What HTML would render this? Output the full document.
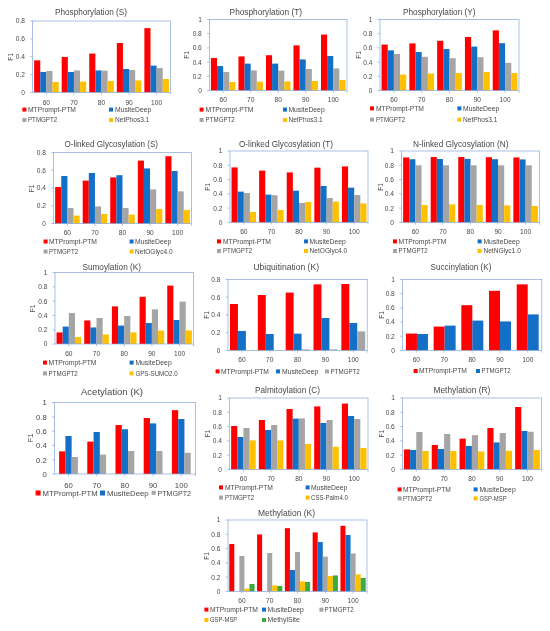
<!DOCTYPE html>
<html><head><meta charset="utf-8"><title>F1 comparison</title>
<style>
html,body{margin:0;padding:0;background:#fff}
svg{display:block}
svg text{font-family:"Liberation Sans",sans-serif;fill:#484848}
</style></head><body>
<svg width="550" height="631" viewBox="0 0 550 631">
<rect width="550" height="631" fill="#fff"/>
<g>
<text x="91" y="15.35" font-size="8.2" text-anchor="middle" textLength="72" lengthAdjust="spacingAndGlyphs">Phosphorylation (S)</text>
<rect x="34.13" y="60.36" width="6.13" height="32.04" fill="#FE0000"/>
<rect x="40.25" y="71.96" width="6.13" height="20.44" fill="#1470C6"/>
<rect x="46.38" y="70.98" width="6.13" height="21.42" fill="#A5A5A5"/>
<rect x="52.51" y="81.96" width="6.13" height="10.44" fill="#FFC000"/>
<rect x="61.69" y="56.97" width="6.13" height="35.43" fill="#FE0000"/>
<rect x="67.81" y="71.96" width="6.13" height="20.44" fill="#1470C6"/>
<rect x="73.94" y="70.44" width="6.13" height="21.96" fill="#A5A5A5"/>
<rect x="80.07" y="81.6" width="6.13" height="10.8" fill="#FFC000"/>
<rect x="89.25" y="53.58" width="6.13" height="38.82" fill="#FE0000"/>
<rect x="95.37" y="70.44" width="6.13" height="21.96" fill="#1470C6"/>
<rect x="101.5" y="70.62" width="6.13" height="21.78" fill="#A5A5A5"/>
<rect x="107.63" y="80.98" width="6.13" height="11.42" fill="#FFC000"/>
<rect x="116.81" y="43.04" width="6.13" height="49.36" fill="#FE0000"/>
<rect x="122.93" y="69.02" width="6.13" height="23.38" fill="#1470C6"/>
<rect x="129.06" y="70" width="6.13" height="22.4" fill="#A5A5A5"/>
<rect x="135.19" y="80.44" width="6.13" height="11.96" fill="#FFC000"/>
<rect x="144.37" y="28.14" width="6.13" height="64.26" fill="#FE0000"/>
<rect x="150.49" y="65.62" width="6.13" height="26.78" fill="#1470C6"/>
<rect x="156.62" y="68.03" width="6.13" height="24.37" fill="#A5A5A5"/>
<rect x="162.75" y="79.01" width="6.13" height="13.39" fill="#FFC000"/>
<rect x="32.6" y="21" width="137.8" height="71.4" fill="none" stroke="#86A6DA" stroke-width="0.7"/>
<line x1="30.2" y1="92.4" x2="32.6" y2="92.4" stroke="#86A6DA" stroke-width="0.7"/>
<text x="25" y="94.78" font-size="6.6" text-anchor="end">0</text>
<line x1="30.2" y1="74.55" x2="32.6" y2="74.55" stroke="#86A6DA" stroke-width="0.7"/>
<text x="25" y="76.93" font-size="6.6" text-anchor="end">0.2</text>
<line x1="30.2" y1="56.7" x2="32.6" y2="56.7" stroke="#86A6DA" stroke-width="0.7"/>
<text x="25" y="59.08" font-size="6.6" text-anchor="end">0.4</text>
<line x1="30.2" y1="38.85" x2="32.6" y2="38.85" stroke="#86A6DA" stroke-width="0.7"/>
<text x="25" y="41.23" font-size="6.6" text-anchor="end">0.6</text>
<line x1="30.2" y1="21" x2="32.6" y2="21" stroke="#86A6DA" stroke-width="0.7"/>
<text x="25" y="23.38" font-size="6.6" text-anchor="end">0.8</text>
<line x1="46.38" y1="92.4" x2="46.38" y2="94.6" stroke="#86A6DA" stroke-width="0.7"/>
<text x="46.38" y="104.78" font-size="6.6" text-anchor="middle">60</text>
<line x1="73.94" y1="92.4" x2="73.94" y2="94.6" stroke="#86A6DA" stroke-width="0.7"/>
<text x="73.94" y="104.78" font-size="6.6" text-anchor="middle">70</text>
<line x1="101.5" y1="92.4" x2="101.5" y2="94.6" stroke="#86A6DA" stroke-width="0.7"/>
<text x="101.5" y="104.78" font-size="6.6" text-anchor="middle">80</text>
<line x1="129.06" y1="92.4" x2="129.06" y2="94.6" stroke="#86A6DA" stroke-width="0.7"/>
<text x="129.06" y="104.78" font-size="6.6" text-anchor="middle">90</text>
<line x1="156.62" y1="92.4" x2="156.62" y2="94.6" stroke="#86A6DA" stroke-width="0.7"/>
<text x="156.62" y="104.78" font-size="6.6" text-anchor="middle">100</text>
<line x1="170.4" y1="92.4" x2="170.4" y2="94.6" stroke="#86A6DA" stroke-width="0.7"/>
<text transform="translate(13.38,57) rotate(-90)" font-size="6.6" text-anchor="middle">F1</text>
<rect x="22.4" y="107.6" width="4" height="4" fill="#FE0000"/>
<text x="28" y="111.98" font-size="6.6" textLength="47.88" lengthAdjust="spacingAndGlyphs">MTPrompt-PTM</text>
<rect x="109" y="107.6" width="4" height="4" fill="#1470C6"/>
<text x="115" y="111.98" font-size="6.6" textLength="36.28" lengthAdjust="spacingAndGlyphs">MusiteDeep</text>
<rect x="22.4" y="118" width="4" height="4" fill="#A5A5A5"/>
<text x="28" y="122.38" font-size="6.6" textLength="29.2" lengthAdjust="spacingAndGlyphs">PTMGPT2</text>
<rect x="109" y="118" width="4" height="4" fill="#FFC000"/>
<text x="115" y="122.38" font-size="6.6" textLength="34.34" lengthAdjust="spacingAndGlyphs">NetPhos3.1</text>
</g>
<g>
<text x="265.8" y="15.35" font-size="8.2" text-anchor="middle" textLength="72.4" lengthAdjust="spacingAndGlyphs">Phosphorylation (T)</text>
<rect x="210.93" y="57.99" width="6.12" height="32.61" fill="#FE0000"/>
<rect x="217.04" y="66.04" width="6.12" height="24.56" fill="#1470C6"/>
<rect x="223.16" y="72.02" width="6.12" height="18.58" fill="#A5A5A5"/>
<rect x="229.28" y="82.06" width="6.12" height="8.54" fill="#FFC000"/>
<rect x="238.45" y="56.42" width="6.12" height="34.18" fill="#FE0000"/>
<rect x="244.56" y="63.62" width="6.12" height="26.98" fill="#1470C6"/>
<rect x="250.68" y="70.38" width="6.12" height="20.22" fill="#A5A5A5"/>
<rect x="256.8" y="81.63" width="6.12" height="8.97" fill="#FFC000"/>
<rect x="265.97" y="55.21" width="6.12" height="35.39" fill="#FE0000"/>
<rect x="272.08" y="63.62" width="6.12" height="26.98" fill="#1470C6"/>
<rect x="278.2" y="70.59" width="6.12" height="20.01" fill="#A5A5A5"/>
<rect x="284.32" y="81.42" width="6.12" height="9.18" fill="#FFC000"/>
<rect x="293.49" y="45.39" width="6.12" height="45.21" fill="#FE0000"/>
<rect x="299.6" y="59.41" width="6.12" height="31.19" fill="#1470C6"/>
<rect x="305.72" y="69.03" width="6.12" height="21.57" fill="#A5A5A5"/>
<rect x="311.84" y="80.99" width="6.12" height="9.61" fill="#FFC000"/>
<rect x="321.01" y="34.57" width="6.12" height="56.03" fill="#FE0000"/>
<rect x="327.12" y="56" width="6.12" height="34.6" fill="#1470C6"/>
<rect x="333.24" y="68.39" width="6.12" height="22.21" fill="#A5A5A5"/>
<rect x="339.36" y="79.99" width="6.12" height="10.61" fill="#FFC000"/>
<rect x="209.4" y="19.4" width="137.6" height="71.2" fill="none" stroke="#86A6DA" stroke-width="0.7"/>
<line x1="207" y1="90.6" x2="209.4" y2="90.6" stroke="#86A6DA" stroke-width="0.7"/>
<text x="201.8" y="92.98" font-size="6.6" text-anchor="end">0</text>
<line x1="207" y1="76.36" x2="209.4" y2="76.36" stroke="#86A6DA" stroke-width="0.7"/>
<text x="201.8" y="78.74" font-size="6.6" text-anchor="end">0.2</text>
<line x1="207" y1="62.12" x2="209.4" y2="62.12" stroke="#86A6DA" stroke-width="0.7"/>
<text x="201.8" y="64.5" font-size="6.6" text-anchor="end">0.4</text>
<line x1="207" y1="47.88" x2="209.4" y2="47.88" stroke="#86A6DA" stroke-width="0.7"/>
<text x="201.8" y="50.26" font-size="6.6" text-anchor="end">0.6</text>
<line x1="207" y1="33.64" x2="209.4" y2="33.64" stroke="#86A6DA" stroke-width="0.7"/>
<text x="201.8" y="36.02" font-size="6.6" text-anchor="end">0.8</text>
<line x1="207" y1="19.4" x2="209.4" y2="19.4" stroke="#86A6DA" stroke-width="0.7"/>
<text x="201.8" y="21.78" font-size="6.6" text-anchor="end">1</text>
<line x1="223.16" y1="90.6" x2="223.16" y2="92.8" stroke="#86A6DA" stroke-width="0.7"/>
<text x="223.16" y="102.38" font-size="6.6" text-anchor="middle">60</text>
<line x1="250.68" y1="90.6" x2="250.68" y2="92.8" stroke="#86A6DA" stroke-width="0.7"/>
<text x="250.68" y="102.38" font-size="6.6" text-anchor="middle">70</text>
<line x1="278.2" y1="90.6" x2="278.2" y2="92.8" stroke="#86A6DA" stroke-width="0.7"/>
<text x="278.2" y="102.38" font-size="6.6" text-anchor="middle">80</text>
<line x1="305.72" y1="90.6" x2="305.72" y2="92.8" stroke="#86A6DA" stroke-width="0.7"/>
<text x="305.72" y="102.38" font-size="6.6" text-anchor="middle">90</text>
<line x1="333.24" y1="90.6" x2="333.24" y2="92.8" stroke="#86A6DA" stroke-width="0.7"/>
<text x="333.24" y="102.38" font-size="6.6" text-anchor="middle">100</text>
<line x1="347" y1="90.6" x2="347" y2="92.8" stroke="#86A6DA" stroke-width="0.7"/>
<text transform="translate(189.38,55) rotate(-90)" font-size="6.6" text-anchor="middle">F1</text>
<rect x="199.6" y="107.6" width="4" height="4" fill="#FE0000"/>
<text x="205.6" y="111.98" font-size="6.6" textLength="47.88" lengthAdjust="spacingAndGlyphs">MTPrompt-PTM</text>
<rect x="283" y="107.6" width="4" height="4" fill="#1470C6"/>
<text x="288.4" y="111.98" font-size="6.6" textLength="36.28" lengthAdjust="spacingAndGlyphs">MusiteDeep</text>
<rect x="199.6" y="118" width="4" height="4" fill="#A5A5A5"/>
<text x="205.6" y="122.38" font-size="6.6" textLength="29.2" lengthAdjust="spacingAndGlyphs">PTMGPT2</text>
<rect x="283" y="118" width="4" height="4" fill="#FFC000"/>
<text x="288.4" y="122.38" font-size="6.6" textLength="34.34" lengthAdjust="spacingAndGlyphs">NetPhos3.1</text>
</g>
<g>
<text x="439.3" y="15.35" font-size="8.2" text-anchor="middle" textLength="72.6" lengthAdjust="spacingAndGlyphs">Phosphorylation (Y)</text>
<rect x="381.54" y="44.6" width="6.18" height="46" fill="#FE0000"/>
<rect x="387.72" y="50.37" width="6.18" height="40.23" fill="#1470C6"/>
<rect x="393.9" y="54" width="6.18" height="36.6" fill="#A5A5A5"/>
<rect x="400.08" y="74.58" width="6.18" height="16.02" fill="#FFC000"/>
<rect x="409.34" y="43.39" width="6.18" height="47.21" fill="#FE0000"/>
<rect x="415.52" y="52.01" width="6.18" height="38.59" fill="#1470C6"/>
<rect x="421.7" y="56.78" width="6.18" height="33.82" fill="#A5A5A5"/>
<rect x="427.88" y="73.58" width="6.18" height="17.02" fill="#FFC000"/>
<rect x="437.14" y="40.76" width="6.18" height="49.84" fill="#FE0000"/>
<rect x="443.32" y="49.02" width="6.18" height="41.58" fill="#1470C6"/>
<rect x="449.5" y="58.2" width="6.18" height="32.4" fill="#A5A5A5"/>
<rect x="455.68" y="73.01" width="6.18" height="17.59" fill="#FFC000"/>
<rect x="464.94" y="36.99" width="6.18" height="53.61" fill="#FE0000"/>
<rect x="471.12" y="46.6" width="6.18" height="44" fill="#1470C6"/>
<rect x="477.3" y="57.21" width="6.18" height="33.39" fill="#A5A5A5"/>
<rect x="483.48" y="72.02" width="6.18" height="18.58" fill="#FFC000"/>
<rect x="492.74" y="30.36" width="6.18" height="60.24" fill="#FE0000"/>
<rect x="498.92" y="43.18" width="6.18" height="47.42" fill="#1470C6"/>
<rect x="505.1" y="62.83" width="6.18" height="27.77" fill="#A5A5A5"/>
<rect x="511.28" y="73.01" width="6.18" height="17.59" fill="#FFC000"/>
<rect x="380" y="19.4" width="139" height="71.2" fill="none" stroke="#86A6DA" stroke-width="0.7"/>
<line x1="377.6" y1="90.6" x2="380" y2="90.6" stroke="#86A6DA" stroke-width="0.7"/>
<text x="372.4" y="92.98" font-size="6.6" text-anchor="end">0</text>
<line x1="377.6" y1="76.36" x2="380" y2="76.36" stroke="#86A6DA" stroke-width="0.7"/>
<text x="372.4" y="78.74" font-size="6.6" text-anchor="end">0.2</text>
<line x1="377.6" y1="62.12" x2="380" y2="62.12" stroke="#86A6DA" stroke-width="0.7"/>
<text x="372.4" y="64.5" font-size="6.6" text-anchor="end">0.4</text>
<line x1="377.6" y1="47.88" x2="380" y2="47.88" stroke="#86A6DA" stroke-width="0.7"/>
<text x="372.4" y="50.26" font-size="6.6" text-anchor="end">0.6</text>
<line x1="377.6" y1="33.64" x2="380" y2="33.64" stroke="#86A6DA" stroke-width="0.7"/>
<text x="372.4" y="36.02" font-size="6.6" text-anchor="end">0.8</text>
<line x1="377.6" y1="19.4" x2="380" y2="19.4" stroke="#86A6DA" stroke-width="0.7"/>
<text x="372.4" y="21.78" font-size="6.6" text-anchor="end">1</text>
<line x1="393.9" y1="90.6" x2="393.9" y2="92.8" stroke="#86A6DA" stroke-width="0.7"/>
<text x="393.9" y="102.38" font-size="6.6" text-anchor="middle">60</text>
<line x1="421.7" y1="90.6" x2="421.7" y2="92.8" stroke="#86A6DA" stroke-width="0.7"/>
<text x="421.7" y="102.38" font-size="6.6" text-anchor="middle">70</text>
<line x1="449.5" y1="90.6" x2="449.5" y2="92.8" stroke="#86A6DA" stroke-width="0.7"/>
<text x="449.5" y="102.38" font-size="6.6" text-anchor="middle">80</text>
<line x1="477.3" y1="90.6" x2="477.3" y2="92.8" stroke="#86A6DA" stroke-width="0.7"/>
<text x="477.3" y="102.38" font-size="6.6" text-anchor="middle">90</text>
<line x1="505.1" y1="90.6" x2="505.1" y2="92.8" stroke="#86A6DA" stroke-width="0.7"/>
<text x="505.1" y="102.38" font-size="6.6" text-anchor="middle">100</text>
<line x1="519" y1="90.6" x2="519" y2="92.8" stroke="#86A6DA" stroke-width="0.7"/>
<text transform="translate(361.38,55) rotate(-90)" font-size="6.6" text-anchor="middle">F1</text>
<rect x="370" y="106.4" width="4" height="4" fill="#FE0000"/>
<text x="376" y="110.78" font-size="6.6" textLength="47.88" lengthAdjust="spacingAndGlyphs">MTPrompt-PTM</text>
<rect x="457.4" y="106.4" width="4" height="4" fill="#1470C6"/>
<text x="463" y="110.78" font-size="6.6" textLength="36.28" lengthAdjust="spacingAndGlyphs">MusiteDeep</text>
<rect x="370" y="117.6" width="4" height="4" fill="#A5A5A5"/>
<text x="376" y="121.98" font-size="6.6" textLength="29.2" lengthAdjust="spacingAndGlyphs">PTMGPT2</text>
<rect x="457.4" y="117.6" width="4" height="4" fill="#FFC000"/>
<text x="463" y="121.98" font-size="6.6" textLength="34.34" lengthAdjust="spacingAndGlyphs">NetPhos3.1</text>
</g>
<g>
<text x="111.2" y="146.95" font-size="8.2" text-anchor="middle" textLength="93.6" lengthAdjust="spacingAndGlyphs">O-linked Glycosylation (S)</text>
<rect x="55.13" y="187.02" width="6.13" height="36.58" fill="#FE0000"/>
<rect x="61.25" y="175.99" width="6.13" height="47.61" fill="#1470C6"/>
<rect x="67.38" y="208.03" width="6.13" height="15.57" fill="#A5A5A5"/>
<rect x="73.51" y="215.59" width="6.13" height="8.01" fill="#FFC000"/>
<rect x="82.69" y="180.61" width="6.13" height="42.99" fill="#FE0000"/>
<rect x="88.81" y="172.96" width="6.13" height="50.64" fill="#1470C6"/>
<rect x="94.94" y="206.42" width="6.13" height="17.18" fill="#A5A5A5"/>
<rect x="101.07" y="213.99" width="6.13" height="9.61" fill="#FFC000"/>
<rect x="110.25" y="177.41" width="6.13" height="46.19" fill="#FE0000"/>
<rect x="116.37" y="175.18" width="6.13" height="48.42" fill="#1470C6"/>
<rect x="122.5" y="208.03" width="6.13" height="15.57" fill="#A5A5A5"/>
<rect x="128.63" y="214.61" width="6.13" height="8.99" fill="#FFC000"/>
<rect x="137.81" y="160.59" width="6.13" height="63.01" fill="#FE0000"/>
<rect x="143.93" y="168.42" width="6.13" height="55.18" fill="#1470C6"/>
<rect x="150.06" y="189.42" width="6.13" height="34.18" fill="#A5A5A5"/>
<rect x="156.19" y="209" width="6.13" height="14.6" fill="#FFC000"/>
<rect x="165.37" y="156.23" width="6.13" height="67.37" fill="#FE0000"/>
<rect x="171.49" y="171" width="6.13" height="52.6" fill="#1470C6"/>
<rect x="177.62" y="191.38" width="6.13" height="32.22" fill="#A5A5A5"/>
<rect x="183.75" y="209.98" width="6.13" height="13.62" fill="#FFC000"/>
<rect x="53.6" y="152.4" width="137.8" height="71.2" fill="none" stroke="#86A6DA" stroke-width="0.7"/>
<line x1="51.2" y1="223.6" x2="53.6" y2="223.6" stroke="#86A6DA" stroke-width="0.7"/>
<text x="46" y="225.98" font-size="6.6" text-anchor="end">0</text>
<line x1="51.2" y1="205.8" x2="53.6" y2="205.8" stroke="#86A6DA" stroke-width="0.7"/>
<text x="46" y="208.18" font-size="6.6" text-anchor="end">0.2</text>
<line x1="51.2" y1="188" x2="53.6" y2="188" stroke="#86A6DA" stroke-width="0.7"/>
<text x="46" y="190.38" font-size="6.6" text-anchor="end">0.4</text>
<line x1="51.2" y1="170.2" x2="53.6" y2="170.2" stroke="#86A6DA" stroke-width="0.7"/>
<text x="46" y="172.58" font-size="6.6" text-anchor="end">0.6</text>
<line x1="51.2" y1="152.4" x2="53.6" y2="152.4" stroke="#86A6DA" stroke-width="0.7"/>
<text x="46" y="154.78" font-size="6.6" text-anchor="end">0.8</text>
<line x1="67.38" y1="223.6" x2="67.38" y2="225.8" stroke="#86A6DA" stroke-width="0.7"/>
<text x="67.38" y="235.38" font-size="6.6" text-anchor="middle">60</text>
<line x1="94.94" y1="223.6" x2="94.94" y2="225.8" stroke="#86A6DA" stroke-width="0.7"/>
<text x="94.94" y="235.38" font-size="6.6" text-anchor="middle">70</text>
<line x1="122.5" y1="223.6" x2="122.5" y2="225.8" stroke="#86A6DA" stroke-width="0.7"/>
<text x="122.5" y="235.38" font-size="6.6" text-anchor="middle">80</text>
<line x1="150.06" y1="223.6" x2="150.06" y2="225.8" stroke="#86A6DA" stroke-width="0.7"/>
<text x="150.06" y="235.38" font-size="6.6" text-anchor="middle">90</text>
<line x1="177.62" y1="223.6" x2="177.62" y2="225.8" stroke="#86A6DA" stroke-width="0.7"/>
<text x="177.62" y="235.38" font-size="6.6" text-anchor="middle">100</text>
<line x1="191.4" y1="223.6" x2="191.4" y2="225.8" stroke="#86A6DA" stroke-width="0.7"/>
<text transform="translate(34.38,188.4) rotate(-90)" font-size="6.6" text-anchor="middle">F1</text>
<rect x="43.6" y="239.5" width="4" height="4" fill="#FE0000"/>
<text x="49" y="243.88" font-size="6.6" textLength="47.88" lengthAdjust="spacingAndGlyphs">MTPrompt-PTM</text>
<rect x="129.6" y="239.5" width="4" height="4" fill="#1470C6"/>
<text x="135" y="243.88" font-size="6.6" textLength="36.28" lengthAdjust="spacingAndGlyphs">MusiteDeep</text>
<rect x="43.6" y="249.5" width="4" height="4" fill="#A5A5A5"/>
<text x="49" y="253.88" font-size="6.6" textLength="29.2" lengthAdjust="spacingAndGlyphs">PTMGPT2</text>
<rect x="129.6" y="249.5" width="4" height="4" fill="#FFC000"/>
<text x="135" y="253.88" font-size="6.6" textLength="37.54" lengthAdjust="spacingAndGlyphs">NetOGlyc4.0</text>
</g>
<g>
<text x="286" y="146.95" font-size="8.2" text-anchor="middle" textLength="94" lengthAdjust="spacingAndGlyphs">O-linked Glycosylation (T)</text>
<rect x="231.53" y="167.42" width="6.13" height="54.98" fill="#FE0000"/>
<rect x="237.67" y="191.63" width="6.13" height="30.77" fill="#1470C6"/>
<rect x="243.8" y="192.98" width="6.13" height="29.42" fill="#A5A5A5"/>
<rect x="249.93" y="211.98" width="6.13" height="10.42" fill="#FFC000"/>
<rect x="259.13" y="170.63" width="6.13" height="51.77" fill="#FE0000"/>
<rect x="265.27" y="194.63" width="6.13" height="27.77" fill="#1470C6"/>
<rect x="271.4" y="195.2" width="6.13" height="27.2" fill="#A5A5A5"/>
<rect x="277.53" y="209.98" width="6.13" height="12.42" fill="#FFC000"/>
<rect x="286.73" y="172.42" width="6.13" height="49.98" fill="#FE0000"/>
<rect x="292.87" y="190.63" width="6.13" height="31.77" fill="#1470C6"/>
<rect x="299" y="202.98" width="6.13" height="19.42" fill="#A5A5A5"/>
<rect x="305.13" y="201.98" width="6.13" height="20.42" fill="#FFC000"/>
<rect x="314.33" y="167.64" width="6.13" height="54.76" fill="#FE0000"/>
<rect x="320.47" y="185.99" width="6.13" height="36.41" fill="#1470C6"/>
<rect x="326.6" y="197.98" width="6.13" height="24.42" fill="#A5A5A5"/>
<rect x="332.73" y="201.62" width="6.13" height="20.78" fill="#FFC000"/>
<rect x="341.93" y="166.42" width="6.13" height="55.98" fill="#FE0000"/>
<rect x="348.07" y="187.63" width="6.13" height="34.77" fill="#1470C6"/>
<rect x="354.2" y="194.98" width="6.13" height="27.42" fill="#A5A5A5"/>
<rect x="360.33" y="203.41" width="6.13" height="18.99" fill="#FFC000"/>
<rect x="230" y="151" width="138" height="71.4" fill="none" stroke="#86A6DA" stroke-width="0.7"/>
<line x1="227.6" y1="222.4" x2="230" y2="222.4" stroke="#86A6DA" stroke-width="0.7"/>
<text x="222.4" y="224.78" font-size="6.6" text-anchor="end">0</text>
<line x1="227.6" y1="208.12" x2="230" y2="208.12" stroke="#86A6DA" stroke-width="0.7"/>
<text x="222.4" y="210.5" font-size="6.6" text-anchor="end">0.2</text>
<line x1="227.6" y1="193.84" x2="230" y2="193.84" stroke="#86A6DA" stroke-width="0.7"/>
<text x="222.4" y="196.22" font-size="6.6" text-anchor="end">0.4</text>
<line x1="227.6" y1="179.56" x2="230" y2="179.56" stroke="#86A6DA" stroke-width="0.7"/>
<text x="222.4" y="181.94" font-size="6.6" text-anchor="end">0.6</text>
<line x1="227.6" y1="165.28" x2="230" y2="165.28" stroke="#86A6DA" stroke-width="0.7"/>
<text x="222.4" y="167.66" font-size="6.6" text-anchor="end">0.8</text>
<line x1="227.6" y1="151" x2="230" y2="151" stroke="#86A6DA" stroke-width="0.7"/>
<text x="222.4" y="153.38" font-size="6.6" text-anchor="end">1</text>
<line x1="243.8" y1="222.4" x2="243.8" y2="224.6" stroke="#86A6DA" stroke-width="0.7"/>
<text x="243.8" y="234.38" font-size="6.6" text-anchor="middle">60</text>
<line x1="271.4" y1="222.4" x2="271.4" y2="224.6" stroke="#86A6DA" stroke-width="0.7"/>
<text x="271.4" y="234.38" font-size="6.6" text-anchor="middle">70</text>
<line x1="299" y1="222.4" x2="299" y2="224.6" stroke="#86A6DA" stroke-width="0.7"/>
<text x="299" y="234.38" font-size="6.6" text-anchor="middle">80</text>
<line x1="326.6" y1="222.4" x2="326.6" y2="224.6" stroke="#86A6DA" stroke-width="0.7"/>
<text x="326.6" y="234.38" font-size="6.6" text-anchor="middle">90</text>
<line x1="354.2" y1="222.4" x2="354.2" y2="224.6" stroke="#86A6DA" stroke-width="0.7"/>
<text x="354.2" y="234.38" font-size="6.6" text-anchor="middle">100</text>
<line x1="368" y1="222.4" x2="368" y2="224.6" stroke="#86A6DA" stroke-width="0.7"/>
<text transform="translate(209.78,187) rotate(-90)" font-size="6.6" text-anchor="middle">F1</text>
<rect x="217" y="239.4" width="4" height="4" fill="#FE0000"/>
<text x="223" y="243.78" font-size="6.6" textLength="47.88" lengthAdjust="spacingAndGlyphs">MTPrompt-PTM</text>
<rect x="304" y="239.4" width="4" height="4" fill="#1470C6"/>
<text x="309.6" y="243.78" font-size="6.6" textLength="36.28" lengthAdjust="spacingAndGlyphs">MusiteDeep</text>
<rect x="217" y="249" width="4" height="4" fill="#A5A5A5"/>
<text x="223" y="253.38" font-size="6.6" textLength="29.2" lengthAdjust="spacingAndGlyphs">PTMGPT2</text>
<rect x="304" y="249" width="4" height="4" fill="#FFC000"/>
<text x="309.6" y="253.38" font-size="6.6" textLength="37.54" lengthAdjust="spacingAndGlyphs">NetOGlyc4.0</text>
</g>
<g>
<text x="460.7" y="146.95" font-size="8.2" text-anchor="middle" textLength="95.4" lengthAdjust="spacingAndGlyphs">N-linked Glycosylation (N)</text>
<rect x="403.13" y="157.43" width="6.13" height="64.97" fill="#FE0000"/>
<rect x="409.25" y="159.21" width="6.13" height="63.19" fill="#1470C6"/>
<rect x="415.38" y="165.28" width="6.13" height="57.12" fill="#A5A5A5"/>
<rect x="421.51" y="204.98" width="6.13" height="17.42" fill="#FFC000"/>
<rect x="430.69" y="157" width="6.13" height="65.4" fill="#FE0000"/>
<rect x="436.81" y="159" width="6.13" height="63.4" fill="#1470C6"/>
<rect x="442.94" y="165.28" width="6.13" height="57.12" fill="#A5A5A5"/>
<rect x="449.07" y="204.41" width="6.13" height="17.99" fill="#FFC000"/>
<rect x="458.25" y="157" width="6.13" height="65.4" fill="#FE0000"/>
<rect x="464.37" y="158.85" width="6.13" height="63.55" fill="#1470C6"/>
<rect x="470.5" y="165.28" width="6.13" height="57.12" fill="#A5A5A5"/>
<rect x="476.63" y="204.98" width="6.13" height="17.42" fill="#FFC000"/>
<rect x="485.81" y="157.21" width="6.13" height="65.19" fill="#FE0000"/>
<rect x="491.93" y="159.21" width="6.13" height="63.19" fill="#1470C6"/>
<rect x="498.06" y="165.28" width="6.13" height="57.12" fill="#A5A5A5"/>
<rect x="504.19" y="205.41" width="6.13" height="16.99" fill="#FFC000"/>
<rect x="513.37" y="157.43" width="6.13" height="64.97" fill="#FE0000"/>
<rect x="519.49" y="159.43" width="6.13" height="62.97" fill="#1470C6"/>
<rect x="525.62" y="165.28" width="6.13" height="57.12" fill="#A5A5A5"/>
<rect x="531.75" y="205.98" width="6.13" height="16.42" fill="#FFC000"/>
<rect x="401.6" y="151" width="137.8" height="71.4" fill="none" stroke="#86A6DA" stroke-width="0.7"/>
<line x1="399.2" y1="222.4" x2="401.6" y2="222.4" stroke="#86A6DA" stroke-width="0.7"/>
<text x="394" y="224.78" font-size="6.6" text-anchor="end">0</text>
<line x1="399.2" y1="208.12" x2="401.6" y2="208.12" stroke="#86A6DA" stroke-width="0.7"/>
<text x="394" y="210.5" font-size="6.6" text-anchor="end">0.2</text>
<line x1="399.2" y1="193.84" x2="401.6" y2="193.84" stroke="#86A6DA" stroke-width="0.7"/>
<text x="394" y="196.22" font-size="6.6" text-anchor="end">0.4</text>
<line x1="399.2" y1="179.56" x2="401.6" y2="179.56" stroke="#86A6DA" stroke-width="0.7"/>
<text x="394" y="181.94" font-size="6.6" text-anchor="end">0.6</text>
<line x1="399.2" y1="165.28" x2="401.6" y2="165.28" stroke="#86A6DA" stroke-width="0.7"/>
<text x="394" y="167.66" font-size="6.6" text-anchor="end">0.8</text>
<line x1="399.2" y1="151" x2="401.6" y2="151" stroke="#86A6DA" stroke-width="0.7"/>
<text x="394" y="153.38" font-size="6.6" text-anchor="end">1</text>
<line x1="415.38" y1="222.4" x2="415.38" y2="224.6" stroke="#86A6DA" stroke-width="0.7"/>
<text x="415.38" y="234.38" font-size="6.6" text-anchor="middle">60</text>
<line x1="442.94" y1="222.4" x2="442.94" y2="224.6" stroke="#86A6DA" stroke-width="0.7"/>
<text x="442.94" y="234.38" font-size="6.6" text-anchor="middle">70</text>
<line x1="470.5" y1="222.4" x2="470.5" y2="224.6" stroke="#86A6DA" stroke-width="0.7"/>
<text x="470.5" y="234.38" font-size="6.6" text-anchor="middle">80</text>
<line x1="498.06" y1="222.4" x2="498.06" y2="224.6" stroke="#86A6DA" stroke-width="0.7"/>
<text x="498.06" y="234.38" font-size="6.6" text-anchor="middle">90</text>
<line x1="525.62" y1="222.4" x2="525.62" y2="224.6" stroke="#86A6DA" stroke-width="0.7"/>
<text x="525.62" y="234.38" font-size="6.6" text-anchor="middle">100</text>
<line x1="539.4" y1="222.4" x2="539.4" y2="224.6" stroke="#86A6DA" stroke-width="0.7"/>
<text transform="translate(383.38,187) rotate(-90)" font-size="6.6" text-anchor="middle">F1</text>
<rect x="393" y="239.4" width="4" height="4" fill="#FE0000"/>
<text x="398.6" y="243.78" font-size="6.6" textLength="47.88" lengthAdjust="spacingAndGlyphs">MTPrompt-PTM</text>
<rect x="477.6" y="239.4" width="4" height="4" fill="#1470C6"/>
<text x="483.4" y="243.78" font-size="6.6" textLength="36.28" lengthAdjust="spacingAndGlyphs">MusiteDeep</text>
<rect x="393" y="249" width="4" height="4" fill="#A5A5A5"/>
<text x="398.6" y="253.38" font-size="6.6" textLength="29.2" lengthAdjust="spacingAndGlyphs">PTMGPT2</text>
<rect x="477.6" y="249" width="4" height="4" fill="#FFC000"/>
<text x="483.4" y="253.38" font-size="6.6" textLength="37.42" lengthAdjust="spacingAndGlyphs">NetNGlyc1.0</text>
</g>
<g>
<text x="111.7" y="269.95" font-size="8.2" text-anchor="middle" textLength="58.6" lengthAdjust="spacingAndGlyphs">Sumoylation (K)</text>
<rect x="56.54" y="332.43" width="6.15" height="11.57" fill="#FE0000"/>
<rect x="62.69" y="326.58" width="6.15" height="17.42" fill="#1470C6"/>
<rect x="68.84" y="313.01" width="6.15" height="30.99" fill="#A5A5A5"/>
<rect x="74.99" y="337" width="6.15" height="7" fill="#FFC000"/>
<rect x="84.22" y="320.44" width="6.15" height="23.56" fill="#FE0000"/>
<rect x="90.37" y="327.44" width="6.15" height="16.56" fill="#1470C6"/>
<rect x="96.52" y="318.01" width="6.15" height="25.99" fill="#A5A5A5"/>
<rect x="102.67" y="334.43" width="6.15" height="9.57" fill="#FFC000"/>
<rect x="111.9" y="306.37" width="6.15" height="37.63" fill="#FE0000"/>
<rect x="118.05" y="325.58" width="6.15" height="18.42" fill="#1470C6"/>
<rect x="124.2" y="316.01" width="6.15" height="27.99" fill="#A5A5A5"/>
<rect x="130.35" y="332.43" width="6.15" height="11.57" fill="#FFC000"/>
<rect x="139.58" y="296.8" width="6.15" height="47.2" fill="#FE0000"/>
<rect x="145.73" y="323.01" width="6.15" height="20.99" fill="#1470C6"/>
<rect x="151.88" y="309.37" width="6.15" height="34.63" fill="#A5A5A5"/>
<rect x="158.03" y="330.58" width="6.15" height="13.42" fill="#FFC000"/>
<rect x="167.26" y="285.59" width="6.15" height="58.41" fill="#FE0000"/>
<rect x="173.41" y="320.01" width="6.15" height="23.99" fill="#1470C6"/>
<rect x="179.56" y="301.59" width="6.15" height="42.41" fill="#A5A5A5"/>
<rect x="185.71" y="330.43" width="6.15" height="13.57" fill="#FFC000"/>
<rect x="55" y="272.6" width="138.4" height="71.4" fill="none" stroke="#86A6DA" stroke-width="0.7"/>
<line x1="52.6" y1="344" x2="55" y2="344" stroke="#86A6DA" stroke-width="0.7"/>
<text x="47.4" y="346.38" font-size="6.6" text-anchor="end">0</text>
<line x1="52.6" y1="329.72" x2="55" y2="329.72" stroke="#86A6DA" stroke-width="0.7"/>
<text x="47.4" y="332.1" font-size="6.6" text-anchor="end">0.2</text>
<line x1="52.6" y1="315.44" x2="55" y2="315.44" stroke="#86A6DA" stroke-width="0.7"/>
<text x="47.4" y="317.82" font-size="6.6" text-anchor="end">0.4</text>
<line x1="52.6" y1="301.16" x2="55" y2="301.16" stroke="#86A6DA" stroke-width="0.7"/>
<text x="47.4" y="303.54" font-size="6.6" text-anchor="end">0.6</text>
<line x1="52.6" y1="286.88" x2="55" y2="286.88" stroke="#86A6DA" stroke-width="0.7"/>
<text x="47.4" y="289.26" font-size="6.6" text-anchor="end">0.8</text>
<line x1="52.6" y1="272.6" x2="55" y2="272.6" stroke="#86A6DA" stroke-width="0.7"/>
<text x="47.4" y="274.98" font-size="6.6" text-anchor="end">1</text>
<line x1="68.84" y1="344" x2="68.84" y2="346.2" stroke="#86A6DA" stroke-width="0.7"/>
<text x="68.84" y="355.78" font-size="6.6" text-anchor="middle">60</text>
<line x1="96.52" y1="344" x2="96.52" y2="346.2" stroke="#86A6DA" stroke-width="0.7"/>
<text x="96.52" y="355.78" font-size="6.6" text-anchor="middle">70</text>
<line x1="124.2" y1="344" x2="124.2" y2="346.2" stroke="#86A6DA" stroke-width="0.7"/>
<text x="124.2" y="355.78" font-size="6.6" text-anchor="middle">80</text>
<line x1="151.88" y1="344" x2="151.88" y2="346.2" stroke="#86A6DA" stroke-width="0.7"/>
<text x="151.88" y="355.78" font-size="6.6" text-anchor="middle">90</text>
<line x1="179.56" y1="344" x2="179.56" y2="346.2" stroke="#86A6DA" stroke-width="0.7"/>
<text x="179.56" y="355.78" font-size="6.6" text-anchor="middle">100</text>
<line x1="193.4" y1="344" x2="193.4" y2="346.2" stroke="#86A6DA" stroke-width="0.7"/>
<text transform="translate(35.38,308.4) rotate(-90)" font-size="6.6" text-anchor="middle">F1</text>
<rect x="43" y="360.6" width="4" height="4" fill="#FE0000"/>
<text x="48.6" y="364.98" font-size="6.6" textLength="47.88" lengthAdjust="spacingAndGlyphs">MTPrompt-PTM</text>
<rect x="129.6" y="360.6" width="4" height="4" fill="#1470C6"/>
<text x="135.4" y="364.98" font-size="6.6" textLength="36.28" lengthAdjust="spacingAndGlyphs">MusiteDeep</text>
<rect x="43" y="371.4" width="4" height="4" fill="#A5A5A5"/>
<text x="48.6" y="375.78" font-size="6.6" textLength="29.2" lengthAdjust="spacingAndGlyphs">PTMGPT2</text>
<rect x="129.6" y="371.4" width="4" height="4" fill="#FFC000"/>
<text x="135.4" y="375.78" font-size="6.6" textLength="42.32" lengthAdjust="spacingAndGlyphs">GPS-SUMO2.0</text>
</g>
<g>
<text x="286.2" y="269.95" font-size="8.2" text-anchor="middle" textLength="65.6" lengthAdjust="spacingAndGlyphs">Ubiquitination (K)</text>
<rect x="229.99" y="303.98" width="7.95" height="46.42" fill="#FE0000"/>
<rect x="237.94" y="330.96" width="7.95" height="19.44" fill="#1470C6"/>
<rect x="257.83" y="295.02" width="7.95" height="55.38" fill="#FE0000"/>
<rect x="265.78" y="333.98" width="7.95" height="16.42" fill="#1470C6"/>
<rect x="285.67" y="292.62" width="7.95" height="57.78" fill="#FE0000"/>
<rect x="293.62" y="333.63" width="7.95" height="16.77" fill="#1470C6"/>
<rect x="301.58" y="349.33" width="7.95" height="1.06" fill="#A5A5A5"/>
<rect x="313.51" y="284.37" width="7.95" height="66.03" fill="#FE0000"/>
<rect x="321.46" y="318.01" width="7.95" height="32.39" fill="#1470C6"/>
<rect x="329.42" y="349.33" width="7.95" height="1.06" fill="#A5A5A5"/>
<rect x="341.35" y="284.01" width="7.95" height="66.38" fill="#FE0000"/>
<rect x="349.3" y="322.98" width="7.95" height="27.42" fill="#1470C6"/>
<rect x="357.26" y="331.41" width="7.95" height="18.99" fill="#A5A5A5"/>
<rect x="228" y="279.4" width="139.2" height="71" fill="none" stroke="#86A6DA" stroke-width="0.7"/>
<line x1="225.6" y1="350.4" x2="228" y2="350.4" stroke="#86A6DA" stroke-width="0.7"/>
<text x="220.4" y="352.78" font-size="6.6" text-anchor="end">0</text>
<line x1="225.6" y1="332.65" x2="228" y2="332.65" stroke="#86A6DA" stroke-width="0.7"/>
<text x="220.4" y="335.03" font-size="6.6" text-anchor="end">0.2</text>
<line x1="225.6" y1="314.9" x2="228" y2="314.9" stroke="#86A6DA" stroke-width="0.7"/>
<text x="220.4" y="317.28" font-size="6.6" text-anchor="end">0.4</text>
<line x1="225.6" y1="297.15" x2="228" y2="297.15" stroke="#86A6DA" stroke-width="0.7"/>
<text x="220.4" y="299.53" font-size="6.6" text-anchor="end">0.6</text>
<line x1="225.6" y1="279.4" x2="228" y2="279.4" stroke="#86A6DA" stroke-width="0.7"/>
<text x="220.4" y="281.78" font-size="6.6" text-anchor="end">0.8</text>
<line x1="241.92" y1="350.4" x2="241.92" y2="352.6" stroke="#86A6DA" stroke-width="0.7"/>
<text x="241.92" y="362.38" font-size="6.6" text-anchor="middle">60</text>
<line x1="269.76" y1="350.4" x2="269.76" y2="352.6" stroke="#86A6DA" stroke-width="0.7"/>
<text x="269.76" y="362.38" font-size="6.6" text-anchor="middle">70</text>
<line x1="297.6" y1="350.4" x2="297.6" y2="352.6" stroke="#86A6DA" stroke-width="0.7"/>
<text x="297.6" y="362.38" font-size="6.6" text-anchor="middle">80</text>
<line x1="325.44" y1="350.4" x2="325.44" y2="352.6" stroke="#86A6DA" stroke-width="0.7"/>
<text x="325.44" y="362.38" font-size="6.6" text-anchor="middle">90</text>
<line x1="353.28" y1="350.4" x2="353.28" y2="352.6" stroke="#86A6DA" stroke-width="0.7"/>
<text x="353.28" y="362.38" font-size="6.6" text-anchor="middle">100</text>
<line x1="367.2" y1="350.4" x2="367.2" y2="352.6" stroke="#86A6DA" stroke-width="0.7"/>
<text transform="translate(209.38,315) rotate(-90)" font-size="6.6" text-anchor="middle">F1</text>
<rect x="215.6" y="369.4" width="4" height="4" fill="#FE0000"/>
<text x="221" y="373.78" font-size="6.6" textLength="47.88" lengthAdjust="spacingAndGlyphs">MTPrompt-PTM</text>
<rect x="276" y="369.4" width="4" height="4" fill="#1470C6"/>
<text x="282" y="373.78" font-size="6.6" textLength="36.28" lengthAdjust="spacingAndGlyphs">MusiteDeep</text>
<rect x="325" y="369.4" width="4" height="4" fill="#A5A5A5"/>
<text x="330.6" y="373.78" font-size="6.6" textLength="29.2" lengthAdjust="spacingAndGlyphs">PTMGPT2</text>
</g>
<g>
<text x="461" y="269.95" font-size="8.2" text-anchor="middle" textLength="60.8" lengthAdjust="spacingAndGlyphs">Succinylation (K)</text>
<rect x="405.95" y="333.57" width="10.99" height="16.83" fill="#FE0000"/>
<rect x="416.95" y="334" width="10.99" height="16.4" fill="#1470C6"/>
<rect x="433.64" y="326.61" width="10.99" height="23.79" fill="#FE0000"/>
<rect x="444.64" y="325.62" width="10.99" height="24.78" fill="#1470C6"/>
<rect x="461.33" y="305.17" width="10.99" height="45.23" fill="#FE0000"/>
<rect x="472.33" y="320.58" width="10.99" height="29.82" fill="#1470C6"/>
<rect x="489.02" y="290.83" width="10.99" height="59.57" fill="#FE0000"/>
<rect x="500.02" y="321.43" width="10.99" height="28.97" fill="#1470C6"/>
<rect x="516.71" y="284.37" width="10.99" height="66.03" fill="#FE0000"/>
<rect x="527.71" y="314.4" width="10.99" height="36" fill="#1470C6"/>
<rect x="402.4" y="279.4" width="139.4" height="71" fill="none" stroke="#86A6DA" stroke-width="0.7"/>
<line x1="400" y1="350.4" x2="402.4" y2="350.4" stroke="#86A6DA" stroke-width="0.7"/>
<text x="394.8" y="352.78" font-size="6.6" text-anchor="end">0</text>
<line x1="400" y1="336.2" x2="402.4" y2="336.2" stroke="#86A6DA" stroke-width="0.7"/>
<text x="394.8" y="338.58" font-size="6.6" text-anchor="end">0.2</text>
<line x1="400" y1="322" x2="402.4" y2="322" stroke="#86A6DA" stroke-width="0.7"/>
<text x="394.8" y="324.38" font-size="6.6" text-anchor="end">0.4</text>
<line x1="400" y1="307.8" x2="402.4" y2="307.8" stroke="#86A6DA" stroke-width="0.7"/>
<text x="394.8" y="310.18" font-size="6.6" text-anchor="end">0.6</text>
<line x1="400" y1="293.6" x2="402.4" y2="293.6" stroke="#86A6DA" stroke-width="0.7"/>
<text x="394.8" y="295.98" font-size="6.6" text-anchor="end">0.8</text>
<line x1="400" y1="279.4" x2="402.4" y2="279.4" stroke="#86A6DA" stroke-width="0.7"/>
<text x="394.8" y="281.78" font-size="6.6" text-anchor="end">1</text>
<line x1="416.34" y1="350.4" x2="416.34" y2="352.6" stroke="#86A6DA" stroke-width="0.7"/>
<text x="416.34" y="362.38" font-size="6.6" text-anchor="middle">60</text>
<line x1="444.22" y1="350.4" x2="444.22" y2="352.6" stroke="#86A6DA" stroke-width="0.7"/>
<text x="444.22" y="362.38" font-size="6.6" text-anchor="middle">70</text>
<line x1="472.1" y1="350.4" x2="472.1" y2="352.6" stroke="#86A6DA" stroke-width="0.7"/>
<text x="472.1" y="362.38" font-size="6.6" text-anchor="middle">80</text>
<line x1="499.98" y1="350.4" x2="499.98" y2="352.6" stroke="#86A6DA" stroke-width="0.7"/>
<text x="499.98" y="362.38" font-size="6.6" text-anchor="middle">90</text>
<line x1="527.86" y1="350.4" x2="527.86" y2="352.6" stroke="#86A6DA" stroke-width="0.7"/>
<text x="527.86" y="362.38" font-size="6.6" text-anchor="middle">100</text>
<line x1="541.8" y1="350.4" x2="541.8" y2="352.6" stroke="#86A6DA" stroke-width="0.7"/>
<text transform="translate(384.38,315) rotate(-90)" font-size="6.6" text-anchor="middle">F1</text>
<rect x="413.6" y="369" width="4" height="4" fill="#FE0000"/>
<text x="419" y="373.38" font-size="6.6" textLength="47.88" lengthAdjust="spacingAndGlyphs">MTPrompt-PTM</text>
<rect x="476" y="369" width="4" height="4" fill="#1470C6"/>
<text x="481.6" y="373.38" font-size="6.6" textLength="29.2" lengthAdjust="spacingAndGlyphs">PTMGPT2</text>
</g>
<g>
<text x="112" y="394.88" font-size="9.68" text-anchor="middle" textLength="62" lengthAdjust="spacingAndGlyphs">Acetylation (K)</text>
<rect x="59.1" y="451.37" width="6.27" height="22.63" fill="#FE0000"/>
<rect x="65.37" y="436.02" width="6.27" height="37.98" fill="#1470C6"/>
<rect x="71.63" y="457.01" width="6.27" height="16.99" fill="#A5A5A5"/>
<rect x="87.3" y="441.58" width="6.27" height="32.42" fill="#FE0000"/>
<rect x="93.57" y="432.02" width="6.27" height="41.98" fill="#1470C6"/>
<rect x="99.83" y="454.58" width="6.27" height="19.42" fill="#A5A5A5"/>
<rect x="115.5" y="425.02" width="6.27" height="48.98" fill="#FE0000"/>
<rect x="121.77" y="429.23" width="6.27" height="44.77" fill="#1470C6"/>
<rect x="128.03" y="451.01" width="6.27" height="22.99" fill="#A5A5A5"/>
<rect x="143.7" y="418.02" width="6.27" height="55.98" fill="#FE0000"/>
<rect x="149.97" y="423.38" width="6.27" height="50.62" fill="#1470C6"/>
<rect x="156.23" y="451.01" width="6.27" height="22.99" fill="#A5A5A5"/>
<rect x="171.9" y="410.17" width="6.27" height="63.83" fill="#FE0000"/>
<rect x="178.17" y="419.02" width="6.27" height="54.98" fill="#1470C6"/>
<rect x="184.43" y="452.79" width="6.27" height="21.21" fill="#A5A5A5"/>
<rect x="54.4" y="402.6" width="141" height="71.4" fill="none" stroke="#86A6DA" stroke-width="0.7"/>
<line x1="52" y1="474" x2="54.4" y2="474" stroke="#86A6DA" stroke-width="0.7"/>
<text x="46.8" y="476.78" font-size="7.72" text-anchor="end">0</text>
<line x1="52" y1="459.72" x2="54.4" y2="459.72" stroke="#86A6DA" stroke-width="0.7"/>
<text x="46.8" y="462.5" font-size="7.72" text-anchor="end">0.2</text>
<line x1="52" y1="445.44" x2="54.4" y2="445.44" stroke="#86A6DA" stroke-width="0.7"/>
<text x="46.8" y="448.22" font-size="7.72" text-anchor="end">0.4</text>
<line x1="52" y1="431.16" x2="54.4" y2="431.16" stroke="#86A6DA" stroke-width="0.7"/>
<text x="46.8" y="433.94" font-size="7.72" text-anchor="end">0.6</text>
<line x1="52" y1="416.88" x2="54.4" y2="416.88" stroke="#86A6DA" stroke-width="0.7"/>
<text x="46.8" y="419.66" font-size="7.72" text-anchor="end">0.8</text>
<line x1="52" y1="402.6" x2="54.4" y2="402.6" stroke="#86A6DA" stroke-width="0.7"/>
<text x="46.8" y="405.38" font-size="7.72" text-anchor="end">1</text>
<line x1="68.5" y1="474" x2="68.5" y2="476.2" stroke="#86A6DA" stroke-width="0.7"/>
<text x="68.5" y="487.78" font-size="7.72" text-anchor="middle">60</text>
<line x1="96.7" y1="474" x2="96.7" y2="476.2" stroke="#86A6DA" stroke-width="0.7"/>
<text x="96.7" y="487.78" font-size="7.72" text-anchor="middle">70</text>
<line x1="124.9" y1="474" x2="124.9" y2="476.2" stroke="#86A6DA" stroke-width="0.7"/>
<text x="124.9" y="487.78" font-size="7.72" text-anchor="middle">80</text>
<line x1="153.1" y1="474" x2="153.1" y2="476.2" stroke="#86A6DA" stroke-width="0.7"/>
<text x="153.1" y="487.78" font-size="7.72" text-anchor="middle">90</text>
<line x1="181.3" y1="474" x2="181.3" y2="476.2" stroke="#86A6DA" stroke-width="0.7"/>
<text x="181.3" y="487.78" font-size="7.72" text-anchor="middle">100</text>
<line x1="195.4" y1="474" x2="195.4" y2="476.2" stroke="#86A6DA" stroke-width="0.7"/>
<text transform="translate(33.18,438) rotate(-90)" font-size="7.72" text-anchor="middle">F1</text>
<rect x="35.6" y="490.5" width="5" height="5" fill="#FE0000"/>
<text x="42.6" y="495.73" font-size="7.59" textLength="55.06" lengthAdjust="spacingAndGlyphs">MTPrompt-PTM</text>
<rect x="100" y="490.5" width="5" height="5" fill="#1470C6"/>
<text x="107" y="495.73" font-size="7.59" textLength="41.72" lengthAdjust="spacingAndGlyphs">MusiteDeep</text>
<rect x="151.6" y="490.8" width="4" height="4" fill="#A5A5A5"/>
<text x="157.4" y="495.53" font-size="7.59" textLength="33.58" lengthAdjust="spacingAndGlyphs">PTMGPT2</text>
</g>
<g>
<text x="287.5" y="393.35" font-size="8.2" text-anchor="middle" textLength="65" lengthAdjust="spacingAndGlyphs">Palmitoylation (C)</text>
<rect x="231.14" y="425.99" width="6.15" height="43.41" fill="#FE0000"/>
<rect x="237.29" y="436.98" width="6.15" height="32.42" fill="#1470C6"/>
<rect x="243.44" y="427.99" width="6.15" height="41.41" fill="#A5A5A5"/>
<rect x="249.59" y="440.41" width="6.15" height="28.99" fill="#FFC000"/>
<rect x="258.82" y="419.99" width="6.15" height="49.41" fill="#FE0000"/>
<rect x="264.97" y="429.99" width="6.15" height="39.41" fill="#1470C6"/>
<rect x="271.12" y="424.99" width="6.15" height="44.41" fill="#A5A5A5"/>
<rect x="277.27" y="440.41" width="6.15" height="28.99" fill="#FFC000"/>
<rect x="286.5" y="409" width="6.15" height="60.4" fill="#FE0000"/>
<rect x="292.65" y="418.63" width="6.15" height="50.77" fill="#1470C6"/>
<rect x="298.8" y="418.42" width="6.15" height="50.98" fill="#A5A5A5"/>
<rect x="304.95" y="443.98" width="6.15" height="25.42" fill="#FFC000"/>
<rect x="314.18" y="406.43" width="6.15" height="62.97" fill="#FE0000"/>
<rect x="320.33" y="422.99" width="6.15" height="46.41" fill="#1470C6"/>
<rect x="326.48" y="419.99" width="6.15" height="49.41" fill="#A5A5A5"/>
<rect x="332.63" y="446.77" width="6.15" height="22.63" fill="#FFC000"/>
<rect x="341.86" y="403.57" width="6.15" height="65.83" fill="#FE0000"/>
<rect x="348.01" y="415.99" width="6.15" height="53.41" fill="#1470C6"/>
<rect x="354.16" y="418.99" width="6.15" height="50.41" fill="#A5A5A5"/>
<rect x="360.31" y="447.98" width="6.15" height="21.42" fill="#FFC000"/>
<rect x="229.6" y="398" width="138.4" height="71.4" fill="none" stroke="#86A6DA" stroke-width="0.7"/>
<line x1="227.2" y1="469.4" x2="229.6" y2="469.4" stroke="#86A6DA" stroke-width="0.7"/>
<text x="222" y="471.78" font-size="6.6" text-anchor="end">0</text>
<line x1="227.2" y1="455.12" x2="229.6" y2="455.12" stroke="#86A6DA" stroke-width="0.7"/>
<text x="222" y="457.5" font-size="6.6" text-anchor="end">0.2</text>
<line x1="227.2" y1="440.84" x2="229.6" y2="440.84" stroke="#86A6DA" stroke-width="0.7"/>
<text x="222" y="443.22" font-size="6.6" text-anchor="end">0.4</text>
<line x1="227.2" y1="426.56" x2="229.6" y2="426.56" stroke="#86A6DA" stroke-width="0.7"/>
<text x="222" y="428.94" font-size="6.6" text-anchor="end">0.6</text>
<line x1="227.2" y1="412.28" x2="229.6" y2="412.28" stroke="#86A6DA" stroke-width="0.7"/>
<text x="222" y="414.66" font-size="6.6" text-anchor="end">0.8</text>
<line x1="227.2" y1="398" x2="229.6" y2="398" stroke="#86A6DA" stroke-width="0.7"/>
<text x="222" y="400.38" font-size="6.6" text-anchor="end">1</text>
<line x1="243.44" y1="469.4" x2="243.44" y2="471.6" stroke="#86A6DA" stroke-width="0.7"/>
<text x="243.44" y="481.38" font-size="6.6" text-anchor="middle">60</text>
<line x1="271.12" y1="469.4" x2="271.12" y2="471.6" stroke="#86A6DA" stroke-width="0.7"/>
<text x="271.12" y="481.38" font-size="6.6" text-anchor="middle">70</text>
<line x1="298.8" y1="469.4" x2="298.8" y2="471.6" stroke="#86A6DA" stroke-width="0.7"/>
<text x="298.8" y="481.38" font-size="6.6" text-anchor="middle">80</text>
<line x1="326.48" y1="469.4" x2="326.48" y2="471.6" stroke="#86A6DA" stroke-width="0.7"/>
<text x="326.48" y="481.38" font-size="6.6" text-anchor="middle">90</text>
<line x1="354.16" y1="469.4" x2="354.16" y2="471.6" stroke="#86A6DA" stroke-width="0.7"/>
<text x="354.16" y="481.38" font-size="6.6" text-anchor="middle">100</text>
<line x1="368" y1="469.4" x2="368" y2="471.6" stroke="#86A6DA" stroke-width="0.7"/>
<text transform="translate(209.78,433.6) rotate(-90)" font-size="6.6" text-anchor="middle">F1</text>
<rect x="219" y="485.4" width="4" height="4" fill="#FE0000"/>
<text x="225" y="489.78" font-size="6.6" textLength="47.88" lengthAdjust="spacingAndGlyphs">MTPrompt-PTM</text>
<rect x="305.6" y="485.4" width="4" height="4" fill="#1470C6"/>
<text x="311" y="489.78" font-size="6.6" textLength="36.28" lengthAdjust="spacingAndGlyphs">MusiteDeep</text>
<rect x="219" y="495.6" width="4" height="4" fill="#A5A5A5"/>
<text x="225" y="499.98" font-size="6.6" textLength="29.2" lengthAdjust="spacingAndGlyphs">PTMGPT2</text>
<rect x="305.6" y="495.6" width="4" height="4" fill="#FFC000"/>
<text x="311" y="499.98" font-size="6.6" textLength="36.85" lengthAdjust="spacingAndGlyphs">CSS-Palm4.0</text>
</g>
<g>
<text x="461.9" y="393.35" font-size="8.2" text-anchor="middle" textLength="57" lengthAdjust="spacingAndGlyphs">Methylation (R)</text>
<rect x="403.94" y="449.41" width="6.18" height="19.99" fill="#FE0000"/>
<rect x="410.12" y="449.98" width="6.18" height="19.42" fill="#1470C6"/>
<rect x="416.3" y="431.99" width="6.18" height="37.41" fill="#A5A5A5"/>
<rect x="422.48" y="450.98" width="6.18" height="18.42" fill="#FFC000"/>
<rect x="431.74" y="444.98" width="6.18" height="24.42" fill="#FE0000"/>
<rect x="437.92" y="448.98" width="6.18" height="20.42" fill="#1470C6"/>
<rect x="444.1" y="433.99" width="6.18" height="35.41" fill="#A5A5A5"/>
<rect x="450.28" y="450.98" width="6.18" height="18.42" fill="#FFC000"/>
<rect x="459.54" y="438.63" width="6.18" height="30.77" fill="#FE0000"/>
<rect x="465.72" y="445.98" width="6.18" height="23.42" fill="#1470C6"/>
<rect x="471.9" y="435.2" width="6.18" height="34.2" fill="#A5A5A5"/>
<rect x="478.08" y="451.41" width="6.18" height="17.99" fill="#FFC000"/>
<rect x="487.34" y="427.99" width="6.18" height="41.41" fill="#FE0000"/>
<rect x="493.52" y="442.41" width="6.18" height="26.99" fill="#1470C6"/>
<rect x="499.7" y="432.99" width="6.18" height="36.41" fill="#A5A5A5"/>
<rect x="505.88" y="450.84" width="6.18" height="18.56" fill="#FFC000"/>
<rect x="515.14" y="407" width="6.18" height="62.4" fill="#FE0000"/>
<rect x="521.32" y="430.99" width="6.18" height="38.41" fill="#1470C6"/>
<rect x="527.5" y="431.77" width="6.18" height="37.63" fill="#A5A5A5"/>
<rect x="533.68" y="449.98" width="6.18" height="19.42" fill="#FFC000"/>
<rect x="402.4" y="398" width="139" height="71.4" fill="none" stroke="#86A6DA" stroke-width="0.7"/>
<line x1="400" y1="469.4" x2="402.4" y2="469.4" stroke="#86A6DA" stroke-width="0.7"/>
<text x="394.8" y="471.78" font-size="6.6" text-anchor="end">0</text>
<line x1="400" y1="455.12" x2="402.4" y2="455.12" stroke="#86A6DA" stroke-width="0.7"/>
<text x="394.8" y="457.5" font-size="6.6" text-anchor="end">0.2</text>
<line x1="400" y1="440.84" x2="402.4" y2="440.84" stroke="#86A6DA" stroke-width="0.7"/>
<text x="394.8" y="443.22" font-size="6.6" text-anchor="end">0.4</text>
<line x1="400" y1="426.56" x2="402.4" y2="426.56" stroke="#86A6DA" stroke-width="0.7"/>
<text x="394.8" y="428.94" font-size="6.6" text-anchor="end">0.6</text>
<line x1="400" y1="412.28" x2="402.4" y2="412.28" stroke="#86A6DA" stroke-width="0.7"/>
<text x="394.8" y="414.66" font-size="6.6" text-anchor="end">0.8</text>
<line x1="400" y1="398" x2="402.4" y2="398" stroke="#86A6DA" stroke-width="0.7"/>
<text x="394.8" y="400.38" font-size="6.6" text-anchor="end">1</text>
<line x1="416.3" y1="469.4" x2="416.3" y2="471.6" stroke="#86A6DA" stroke-width="0.7"/>
<text x="416.3" y="481.38" font-size="6.6" text-anchor="middle">60</text>
<line x1="444.1" y1="469.4" x2="444.1" y2="471.6" stroke="#86A6DA" stroke-width="0.7"/>
<text x="444.1" y="481.38" font-size="6.6" text-anchor="middle">70</text>
<line x1="471.9" y1="469.4" x2="471.9" y2="471.6" stroke="#86A6DA" stroke-width="0.7"/>
<text x="471.9" y="481.38" font-size="6.6" text-anchor="middle">80</text>
<line x1="499.7" y1="469.4" x2="499.7" y2="471.6" stroke="#86A6DA" stroke-width="0.7"/>
<text x="499.7" y="481.38" font-size="6.6" text-anchor="middle">90</text>
<line x1="527.5" y1="469.4" x2="527.5" y2="471.6" stroke="#86A6DA" stroke-width="0.7"/>
<text x="527.5" y="481.38" font-size="6.6" text-anchor="middle">100</text>
<line x1="541.4" y1="469.4" x2="541.4" y2="471.6" stroke="#86A6DA" stroke-width="0.7"/>
<text transform="translate(384.38,433.6) rotate(-90)" font-size="6.6" text-anchor="middle">F1</text>
<rect x="397.6" y="487.4" width="4" height="4" fill="#FE0000"/>
<text x="403" y="491.78" font-size="6.6" textLength="47.88" lengthAdjust="spacingAndGlyphs">MTPrompt-PTM</text>
<rect x="473.6" y="487.4" width="4" height="4" fill="#1470C6"/>
<text x="479.4" y="491.78" font-size="6.6" textLength="36.28" lengthAdjust="spacingAndGlyphs">MusiteDeep</text>
<rect x="397.6" y="496.4" width="4" height="4" fill="#A5A5A5"/>
<text x="403" y="500.78" font-size="6.6" textLength="29.2" lengthAdjust="spacingAndGlyphs">PTMGPT2</text>
<rect x="473.6" y="496.4" width="4" height="4" fill="#FFC000"/>
<text x="479.4" y="500.78" font-size="6.6" textLength="27.33" lengthAdjust="spacingAndGlyphs">GSP-MSP</text>
</g>
<g>
<text x="286.5" y="516.35" font-size="8.2" text-anchor="middle" textLength="57" lengthAdjust="spacingAndGlyphs">Methylation (K)</text>
<rect x="229.26" y="543.99" width="5.05" height="47.41" fill="#FE0000"/>
<rect x="239.37" y="555.99" width="5.05" height="35.41" fill="#A5A5A5"/>
<rect x="244.43" y="588.62" width="5.05" height="2.78" fill="#FFC000"/>
<rect x="249.48" y="583.97" width="5.05" height="7.43" fill="#3DAA3D"/>
<rect x="257.06" y="534.42" width="5.05" height="56.98" fill="#FE0000"/>
<rect x="267.17" y="552.99" width="5.05" height="38.41" fill="#A5A5A5"/>
<rect x="272.23" y="585.4" width="5.05" height="6" fill="#FFC000"/>
<rect x="277.28" y="585.97" width="5.05" height="5.43" fill="#3DAA3D"/>
<rect x="284.86" y="528.21" width="5.05" height="63.19" fill="#FE0000"/>
<rect x="289.92" y="569.98" width="5.05" height="21.42" fill="#1470C6"/>
<rect x="294.97" y="551.99" width="5.05" height="39.41" fill="#A5A5A5"/>
<rect x="300.03" y="581.4" width="5.05" height="10" fill="#FFC000"/>
<rect x="305.08" y="581.98" width="5.05" height="9.42" fill="#3DAA3D"/>
<rect x="312.66" y="532.42" width="5.05" height="58.98" fill="#FE0000"/>
<rect x="317.72" y="541.99" width="5.05" height="49.41" fill="#1470C6"/>
<rect x="322.77" y="556.63" width="5.05" height="34.77" fill="#A5A5A5"/>
<rect x="327.83" y="575.98" width="5.05" height="15.42" fill="#FFC000"/>
<rect x="332.88" y="575.41" width="5.05" height="15.99" fill="#3DAA3D"/>
<rect x="340.46" y="525.78" width="5.05" height="65.62" fill="#FE0000"/>
<rect x="345.52" y="534.99" width="5.05" height="56.41" fill="#1470C6"/>
<rect x="350.57" y="553.42" width="5.05" height="37.98" fill="#A5A5A5"/>
<rect x="355.63" y="574.41" width="5.05" height="16.99" fill="#FFC000"/>
<rect x="360.68" y="577.98" width="5.05" height="13.42" fill="#3DAA3D"/>
<rect x="228" y="520" width="139" height="71.4" fill="none" stroke="#86A6DA" stroke-width="0.7"/>
<line x1="225.6" y1="591.4" x2="228" y2="591.4" stroke="#86A6DA" stroke-width="0.7"/>
<text x="220.4" y="593.78" font-size="6.6" text-anchor="end">0</text>
<line x1="225.6" y1="577.12" x2="228" y2="577.12" stroke="#86A6DA" stroke-width="0.7"/>
<text x="220.4" y="579.5" font-size="6.6" text-anchor="end">0.2</text>
<line x1="225.6" y1="562.84" x2="228" y2="562.84" stroke="#86A6DA" stroke-width="0.7"/>
<text x="220.4" y="565.22" font-size="6.6" text-anchor="end">0.4</text>
<line x1="225.6" y1="548.56" x2="228" y2="548.56" stroke="#86A6DA" stroke-width="0.7"/>
<text x="220.4" y="550.94" font-size="6.6" text-anchor="end">0.6</text>
<line x1="225.6" y1="534.28" x2="228" y2="534.28" stroke="#86A6DA" stroke-width="0.7"/>
<text x="220.4" y="536.66" font-size="6.6" text-anchor="end">0.8</text>
<line x1="225.6" y1="520" x2="228" y2="520" stroke="#86A6DA" stroke-width="0.7"/>
<text x="220.4" y="522.38" font-size="6.6" text-anchor="end">1</text>
<line x1="241.9" y1="591.4" x2="241.9" y2="593.6" stroke="#86A6DA" stroke-width="0.7"/>
<text x="241.9" y="603.38" font-size="6.6" text-anchor="middle">60</text>
<line x1="269.7" y1="591.4" x2="269.7" y2="593.6" stroke="#86A6DA" stroke-width="0.7"/>
<text x="269.7" y="603.38" font-size="6.6" text-anchor="middle">70</text>
<line x1="297.5" y1="591.4" x2="297.5" y2="593.6" stroke="#86A6DA" stroke-width="0.7"/>
<text x="297.5" y="603.38" font-size="6.6" text-anchor="middle">80</text>
<line x1="325.3" y1="591.4" x2="325.3" y2="593.6" stroke="#86A6DA" stroke-width="0.7"/>
<text x="325.3" y="603.38" font-size="6.6" text-anchor="middle">90</text>
<line x1="353.1" y1="591.4" x2="353.1" y2="593.6" stroke="#86A6DA" stroke-width="0.7"/>
<text x="353.1" y="603.38" font-size="6.6" text-anchor="middle">100</text>
<line x1="367" y1="591.4" x2="367" y2="593.6" stroke="#86A6DA" stroke-width="0.7"/>
<text transform="translate(209.38,556) rotate(-90)" font-size="6.6" text-anchor="middle">F1</text>
<rect x="204.4" y="607.6" width="4" height="4" fill="#FE0000"/>
<text x="210" y="611.98" font-size="6.6" textLength="47.88" lengthAdjust="spacingAndGlyphs">MTPrompt-PTM</text>
<rect x="262" y="607.6" width="4" height="4" fill="#1470C6"/>
<text x="267.6" y="611.98" font-size="6.6" textLength="36.28" lengthAdjust="spacingAndGlyphs">MusiteDeep</text>
<rect x="319.4" y="607.6" width="4" height="4" fill="#A5A5A5"/>
<text x="324.6" y="611.98" font-size="6.6" textLength="29.2" lengthAdjust="spacingAndGlyphs">PTMGPT2</text>
<rect x="204.4" y="618" width="4" height="4" fill="#FFC000"/>
<text x="210" y="622.38" font-size="6.6" textLength="27.33" lengthAdjust="spacingAndGlyphs">GSP-MSP</text>
<rect x="262" y="618" width="4" height="4" fill="#3DAA3D"/>
<text x="267.6" y="622.38" font-size="6.6" textLength="32.24" lengthAdjust="spacingAndGlyphs">MethylSite</text>
</g>
</svg>
</body></html>
